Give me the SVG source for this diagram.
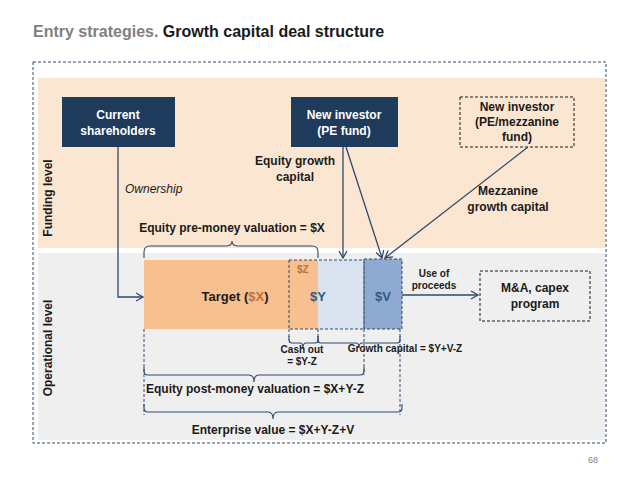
<svg xmlns="http://www.w3.org/2000/svg" width="638" height="479" viewBox="0 0 638 479">
<defs>
<marker id="ar" markerWidth="10" markerHeight="10" refX="8" refY="5" orient="auto" markerUnits="userSpaceOnUse"><path d="M1,1 L8,5 L1,9" fill="none" stroke="#2e4a6b" stroke-width="1.3"/></marker>
</defs>
<style>
text{font-family:"Liberation Sans",Arial,sans-serif;font-weight:bold;font-size:12px;fill:#1a1a1a}
.w{fill:#fff}
.c{stroke:#2e4a6b;stroke-width:1.3;fill:none}
.b{stroke:#2e4a6b;stroke-width:1.1;fill:none}
.d{stroke:#2e4a6b;stroke-width:1;fill:none;stroke-dasharray:3,2}
</style>
<rect width="638" height="479" fill="#fff"/>
<text x="33" y="37" font-size="16" style="font-size:16px;fill:#7f7f7f">Entry strategies. <tspan style="fill:#1a1a1a">Growth capital deal structure</tspan></text>
<rect x="33" y="62" width="573" height="381" fill="none" stroke="#2e4a6b" stroke-dasharray="3,2"/>
<rect x="38" y="78" width="567" height="170" fill="#fbe6d2"/>
<rect x="38" y="253" width="567" height="187" fill="#efefef"/>
<text transform="translate(52,198) rotate(-90)" text-anchor="middle">Funding level</text>
<text transform="translate(52,348) rotate(-90)" text-anchor="middle">Operational level</text>
<g id="cur"><rect x="62" y="97" width="113" height="50" fill="#1f3b5c"/><text class="w" x="118" y="119" text-anchor="middle">Current</text><text class="w" x="118" y="135" text-anchor="middle">shareholders</text></g>
<g id="pe"><rect x="291" y="97" width="107" height="50" fill="#1f3b5c"/><text class="w" x="344" y="119" text-anchor="middle">New investor</text><text class="w" x="344" y="135" text-anchor="middle">(PE fund)</text></g>
<g id="mez"><rect x="460" y="97" width="114" height="50" fill="none" stroke="#1a1a1a" stroke-dasharray="3,2"/><text x="517" y="111" text-anchor="middle">New investor</text><text x="517" y="126" text-anchor="middle">(PE/mezzanine</text><text x="517" y="141" text-anchor="middle">fund)</text></g>
<g id="target"><rect x="144" y="260" width="174" height="69" fill="#f9c08f"/><rect x="318" y="260" width="46" height="69" fill="#d9e3f0"/><rect x="364" y="259" width="38" height="70" fill="#8eaad0"/>
<rect x="289" y="260" width="75" height="69" class="d" stroke-width="1.3"/><rect x="364" y="259" width="38" height="70" class="d" stroke-width="1.3"/>
<text x="235" y="301" text-anchor="middle" style="font-size:13px">Target (<tspan style="fill:#c0703a">$X</tspan>)</text>
<text x="297" y="273" style="font-size:10px;fill:#c0703a">$Z</text>
<text x="318" y="301" text-anchor="middle" style="font-size:13px;fill:#2e5a8a">$Y</text>
<text x="383" y="301" text-anchor="middle" style="font-size:13px;fill:#2e5a8a">$V</text></g>
<g id="ma"><rect x="480" y="271" width="110" height="50" fill="none" stroke="#1a1a1a" stroke-dasharray="3,2"/><text x="535" y="292" text-anchor="middle">M&amp;A, capex</text><text x="535" y="308" text-anchor="middle">program</text></g>
<g id="connectors">
<path class="c" d="M118,147 V297 H143" marker-end="url(#ar)"/>
<path class="c" d="M343,147 V258" marker-end="url(#ar)"/>
<path class="c" d="M346,147 L382,258" marker-end="url(#ar)"/>
<path class="c" d="M528,147 L385,258" marker-end="url(#ar)"/>
<path class="c" d="M402,295 H478" marker-end="url(#ar)"/>
<path class="d" d="M144,329 V415 M289,329 V340 M318,329 V340 M364,329 V375 M400,329 V415"/>
<path class="b" d="M144,258 V252 Q144,246 150,246 H226 Q232,246 232,241 Q232,246 238,246 H312 Q318,246 318,252 V258"/>
<path class="b" d="M289,336 V340 Q289,343 292,343 H300 Q303,343 303,348 Q303,343 306,343 H315 Q318,343 318,340 V336"/>
<path class="b" d="M318,336 V340 Q318,343 321,343 H356 Q359,343 359,348 Q359,343 362,343 H397 Q400,343 400,340 V336"/>
<path class="b" d="M144,367 V371 Q144,375 148,375 H249 Q254,375 254,382 Q254,375 259,375 H360 Q364,375 364,371 V367"/>
<path class="b" d="M144,404 V408 Q144,412 148,412 H268 Q273,412 273,419 Q273,412 278,412 H398 Q402,412 402,408 V404"/>
</g>
<g id="labels">
<text x="125" y="193" style="font-weight:normal;font-style:italic">Ownership</text>
<text x="295" y="165" text-anchor="middle">Equity growth</text>
<text x="295" y="181" text-anchor="middle">capital</text>
<text x="508" y="195" text-anchor="middle">Mezzanine</text>
<text x="508" y="211" text-anchor="middle">growth capital</text>
<text x="232" y="232" text-anchor="middle">Equity pre-money valuation = $X</text>
<text x="434" y="277" text-anchor="middle" style="font-size:10px">Use of</text>
<text x="434" y="289" text-anchor="middle" style="font-size:10px">proceeds</text>
<text x="302" y="353" text-anchor="middle" style="font-size:10px">Cash out</text>
<text x="302" y="365" text-anchor="middle" style="font-size:10px">= $Y-Z</text>
<text x="405" y="352" text-anchor="middle" style="font-size:10px">Growth capital = $Y+V-Z</text>
<text x="146" y="393">Equity post-money valuation = $X+Y-Z</text>
<text x="273" y="434" text-anchor="middle">Enterprise value = $X+Y-Z+V</text>
<text x="598" y="463" text-anchor="end" style="font-weight:normal;font-size:9px;fill:#7f7f7f">68</text>
</g>
</svg>
